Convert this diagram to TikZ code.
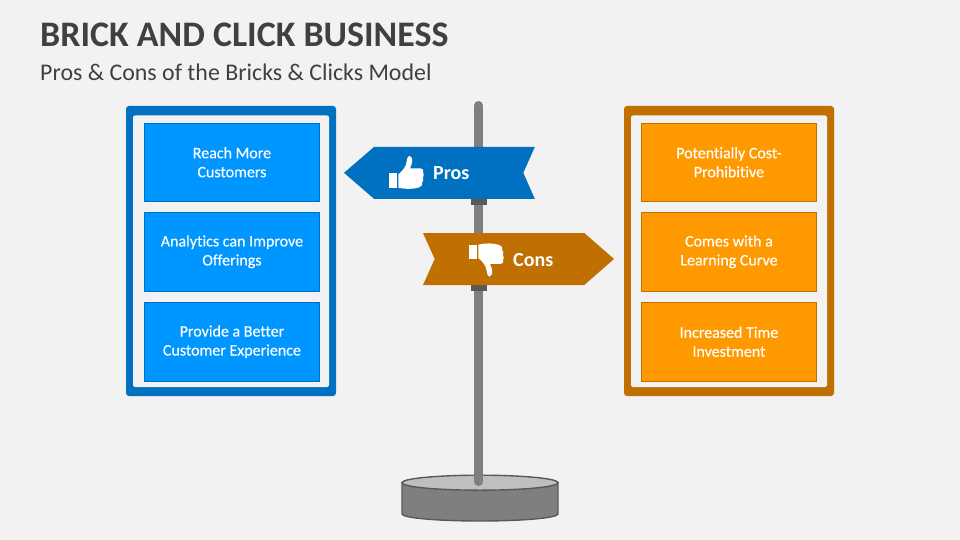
\documentclass[tikz,border=0pt]{standalone}
\usepackage{fontspec}
\setmainfont[Ligatures=CommonOff]{Carlito}
\newfontfamily\semib[FakeBold=0.25,Ligatures=CommonOff]{Carlito}
\definecolor{bgc}{HTML}{F2F2F2}
\definecolor{inkc}{HTML}{404040}
\definecolor{blued}{HTML}{0070C0}
\definecolor{bluel}{HTML}{0096FF}
\definecolor{orad}{HTML}{BF7000}
\definecolor{oral}{HTML}{FF9900}
\definecolor{poleg}{HTML}{7F7F7F}
\definecolor{clampg}{HTML}{595959}
\definecolor{topg}{HTML}{BFBFBF}
\tikzset{
  x=1pt,y=-1pt,
  frameb/.style={fill=#1,rounded corners=3pt},
  innerb/.style={fill=bgc,rounded corners=2pt},
  itemb/.style n args={2}{draw=#1,line width=1pt,fill=#2,text=white,font=\semib\fontsize{16}{19}\selectfont,align=center,
    minimum width=175.5pt,inner sep=0pt,anchor=north west},
  signtxt/.style={text=white,font=\fontsize{20}{22}\selectfont\bfseries,anchor=west,inner sep=0pt},
  clampb/.style={fill=clampg},
  thumbf/.style={fill=white},
}
\newcommand{\thumbshape}{%
  \fill[thumbf] (27,70) rectangle (50,113);
  \fill[thumbf] (55,113) -- (55,73) .. controls (68,62) and (78,50) .. (80,35) .. controls (81,25) and (84,17) .. (88,17)
    .. controls (95,18) and (98,27) .. (96,38) .. controls (95,45) and (92,50) .. (90,55) -- (122,55)
    .. controls (130,56) and (131,62) .. (129,66) .. controls (132,72) and (132,78) .. (129,82)
    .. controls (131,88) and (130,92) .. (127,96) .. controls (128,104) and (125,110) .. (118,112)
    .. controls (100,118) and (75,118) .. (55,113) -- cycle;
}
\begin{document}
\begin{tikzpicture}
\useasboundingbox (0,0) rectangle (960,540);
\fill[bgc] (0,0) rectangle (960,540);
% title
\node[anchor=base west,inner sep=0pt,text=inkc,font=\fontsize{35.9}{38}\selectfont\bfseries] (title) at (40,46.5) {BRICK AND CLICK BUSINESS};
\node[anchor=base west,inner sep=0pt,text=inkc,font=\fontsize{23.9}{26}\selectfont] (subtitle) at (40,81) {Pros \& Cons of the Bricks \& Clicks Model};
% left panel
\fill[frameb=blued] (126,106) rectangle (336,396);
\fill[innerb] (133,115.5) rectangle (329,387);
\node[itemb={blued}{bluel},minimum height=77.5pt] (l1) at (143.7,123) {Reach More\\Customers};
\node[itemb={blued}{bluel},minimum height=78.5pt] (l2) at (143.7,212) {Analytics can Improve\\Offerings};
\node[itemb={blued}{bluel},minimum height=78.5pt] (l3) at (143.7,302) {Provide a Better\\Customer Experience};
% right panel
\fill[frameb=orad] (624,106) rectangle (834,396);
\fill[innerb] (631,115.5) rectangle (827,387);
\node[itemb={orad}{oral},minimum height=77.5pt] (r1) at (640.7,123) {Potentially Cost-\\Prohibitive};
\node[itemb={orad}{oral},minimum height=78.5pt] (r2) at (640.7,212) {Comes with a\\Learning Curve};
\node[itemb={orad}{oral},minimum height=78.5pt] (r3) at (640.7,302) {Increased Time\\Investment};
% base
\draw[draw=clampg,line width=1.4pt,fill=poleg] (402,482.7) -- (402,514) arc[start angle=180,end angle=360,x radius=78,y radius=-7] -- (558,482.7) -- cycle;
\draw[draw=clampg,line width=1.4pt,fill=topg] (480,482.7) ellipse[x radius=78,y radius=7.5];
% pole
\draw[poleg,line width=9pt,line cap=round] (478.5,105.5) -- (478.5,481.5);
\fill[clampb] (471,199) rectangle (487,205);
\fill[clampb] (471,285) rectangle (487,290.5);
% signs
\fill[blued] (344,172.8) -- (374,147) -- (534.8,147) -- (523.3,172.8) -- (534.8,198.8) -- (374,198.8) -- cycle;
\fill[orad] (423,233) -- (584.3,233) -- (614,259) -- (584.3,285) -- (423,285) -- (434.7,259) -- cycle;
\node[signtxt] (pros) at (433,173.5) {Pros};
\node[signtxt] (cons) at (513,260) {Cons};
% thumbs
\begin{scope}[shift={(380,150)},x=0.3333pt,y=-0.3333pt]
\thumbshape
\end{scope}
\begin{scope}[shift={(460,282.3)},x=0.3333pt,y=0.3333pt]
\thumbshape
\end{scope}
\end{tikzpicture}
\end{document}
